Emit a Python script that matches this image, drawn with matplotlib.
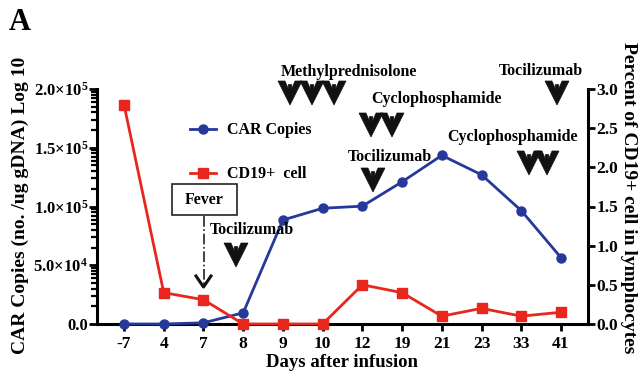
import numpy as np
import matplotlib
matplotlib.use("Agg")
import matplotlib.pyplot as plt
from matplotlib.patches import Polygon, Rectangle
from matplotlib.lines import Line2D

plt.rcParams['font.family'] = ['Liberation Serif', 'DejaVu Serif']
plt.rcParams['font.weight'] = 'bold'
plt.rcParams['mathtext.fontset'] = 'custom'
plt.rcParams['mathtext.rm'] = 'Liberation Serif:bold'
plt.rcParams['mathtext.bf'] = 'Liberation Serif:bold'
plt.rcParams['mathtext.it'] = 'Liberation Serif:bold'

days = ["-7", "4", "7", "8", "9", "10", "12", "19", "21", "23", "33", "41"]
car_copies = [0, 0, 1000, 9500, 88500, 98500, 100300, 121000, 143500, 127000, 96500, 56500]
cd19_pct = [2.80, 0.40, 0.31, 0.0, 0.0, 0.0, 0.50, 0.40, 0.10, 0.20, 0.10, 0.15]
left_ticks = [0, 5e4, 1e5, 1.5e5, 2e5]
left_ticklabels = ["0.0", "5.0×10$^{4}$", "1.0×10$^{5}$", "1.5×10$^{5}$", "2.0×10$^{5}$"]
right_ticks = [0, 0.5, 1.0, 1.5, 2.0, 2.5, 3.0]

W, H = 642, 373
fig = plt.figure(figsize=(W / 100, H / 100), dpi=100)

def fx(x):
    return x / W

def fy(y):
    return 1 - y / H

ax = fig.add_axes([fx(97), fy(324), fx(588) - fx(97), fy(89) - fy(324)])
ax2 = ax.twinx()

blue = '#26399a'
red = '#e8261e'
x = np.arange(len(days))
l1, = ax.plot(x, car_copies, '-o', color=blue, lw=2, ms=6.5, clip_on=False, zorder=3,
              label='CAR Copies')
l2, = ax2.plot(x, cd19_pct, '-s', color=red, lw=2, ms=7, clip_on=False, zorder=4,
               label='CD19+  cell')

ax.set_xlim(-0.68, 11.68)
ax.set_ylim(0, 2e5)
ax2.set_ylim(0, 3)

ax.set_xticks(x)
ax.set_xticklabels(days, fontsize=12.5, fontweight='bold')
ax.set_yticks(left_ticks)
ax.set_yticklabels(left_ticklabels, fontsize=12, fontweight='bold')
minor = []
for k in range(4):
    for m in range(2, 10):
        minor.append(k * 5e4 + 5e4 * np.log10(m))
ax.set_yticks(minor, minor=True)
ax2.set_yticks(right_ticks)
ax2.set_yticklabels(["%.1f" % t for t in right_ticks], fontsize=12.5, fontweight='bold')

for a in (ax, ax2):
    a.spines['top'].set_visible(False)
    for s in a.spines.values():
        s.set_linewidth(2.2)
ax.spines['right'].set_visible(False)
ax2.spines['left'].set_visible(False)
ax2.spines['bottom'].set_visible(False)
ax.tick_params(axis='x', direction='out', length=5, width=2, pad=4)
ax.tick_params(axis='y', which='major', direction='out', length=6, width=2, pad=0.5)
ax.tick_params(axis='y', which='minor', direction='out', length=4, width=1.6)
ax2.tick_params(axis='y', direction='out', length=5, width=2, pad=1)

ax.set_xlabel("Days after infusion", fontsize=13.5, fontweight='bold', labelpad=1)
fig.text(fx(20), fy(205), "CAR Copies (no. /ug gDNA) Log 10", rotation=90,
         fontsize=14, fontweight='bold', ha='center', va='center')
fig.text(fx(628), fy(198), "Percent of CD19+ cell in lymphocytes", rotation=270,
         fontsize=14, fontweight='bold', ha='center', va='center')
fig.text(fx(9), fy(23), "A", fontsize=22, fontweight='bold', ha='left', va='center')

leg = ax.legend(handles=[l1, l2], loc='upper left', bbox_to_anchor=(fx(176), fy(108)),
                bbox_transform=fig.transFigure, frameon=False, fontsize=11.5,
                labelspacing=1.75, handlelength=1.6, handletextpad=0.7)
for t in leg.get_texts():
    t.set_fontweight('bold')

def arrow(cx, cy, w=24, h=24):
    hw, hh = w / 2, h / 2
    shape = [(-1, -1), (0, 1), (1, -1), (0.42, -1), (0.14, -0.35), (0.14, -0.7),
             (-0.14, -0.7), (-0.14, -0.35), (-0.42, -1)]
    pts = [(fx(cx + dx * hw), fy(cy + dy * hh)) for dx, dy in shape]
    fig.patches.append(Polygon(pts, closed=True, transform=fig.transFigure,
                               facecolor='#111111', edgecolor='#111111', lw=0.5))

def label(xp, yp, s):
    fig.text(fx(xp), fy(yp), s, fontsize=11.5, fontweight='bold', ha='center', va='center')

label(349, 72, "Methylprednisolone")
for cx in (290, 312, 334):
    arrow(cx, 93)
label(436, 99, "Cyclophosphamide")
for cx in (371, 392):
    arrow(cx, 125)
label(390, 157, "Tocilizumab")
arrow(373, 180)
label(512, 137, "Cyclophosphamide")
for cx in (529, 547):
    arrow(cx, 163)
label(541, 71, "Tocilizumab")
arrow(557, 93)
label(252, 230, "Tocilizumab")
arrow(236, 255)

# Fever box
fig.patches.append(Rectangle((fx(172), fy(215)), fx(237) - fx(172), fy(184) - fy(215),
                             transform=fig.transFigure, facecolor='white',
                             edgecolor='#222222', lw=1.2))
label(204.5, 200, "Fever")
fig.lines.append(Line2D([fx(203.5), fx(203.5)], [fy(216), fy(285)], transform=fig.transFigure,
                        color='#222222', lw=1.2, linestyle='-.'))
fig.lines.append(Line2D([fx(196), fx(203.5), fx(211)], [fy(276), fy(287), fy(276)],
                        transform=fig.transFigure, color='#111111', lw=2.2))

fig.savefig("out.png", dpi=100)
